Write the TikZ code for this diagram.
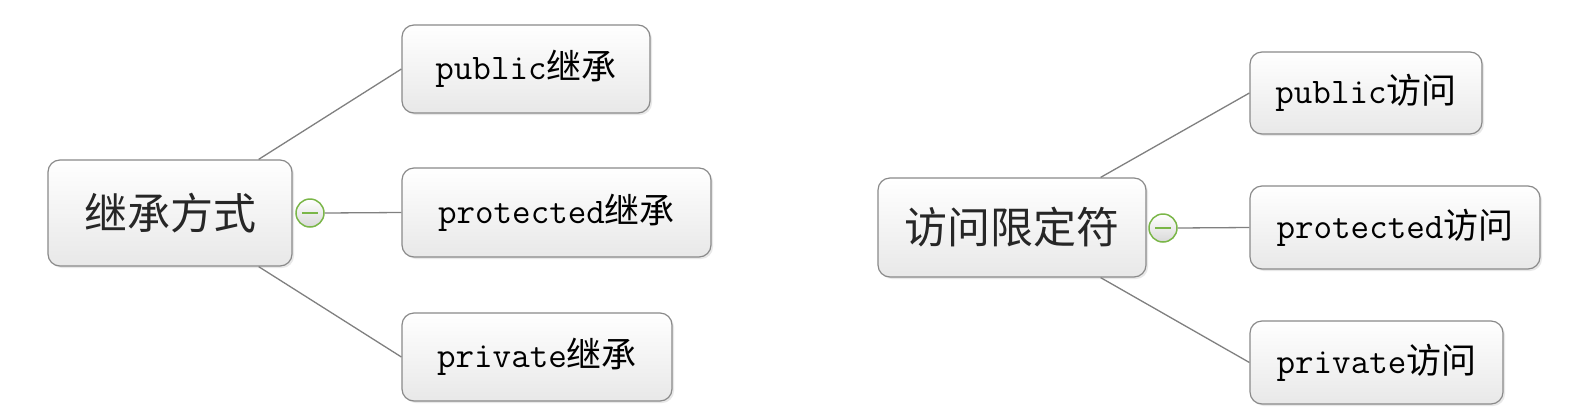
\documentclass[tikz,border=0pt]{standalone}
\usepackage{fontspec}
\newfontfamily\cjk{Noto Sans CJK SC}
\usetikzlibrary{shadows}
\definecolor{boxline}{HTML}{8A8A8A}
\definecolor{linkline}{HTML}{808080}
\definecolor{mgreen}{HTML}{7AB648}
\tikzset{
  topicbox/.style={draw=boxline, line width=1.2pt, rounded corners=12pt,
    top color=white, bottom color=black!9,
    drop shadow={shadow xshift=2pt, shadow yshift=-2pt, opacity=0.18},
    inner sep=0pt, anchor=center},
  rootbox/.style={topicbox, font=\cjk\fontsize{43}{46}\selectfont, text=black!85},
  leafbox/.style={topicbox, text=black},
  link/.style={draw=linkline, line width=1.3pt},
  minusbtn/.style={circle, draw=mgreen, line width=1.5pt, minimum size=28pt,
    inner sep=0pt, top color=white, bottom color=black!15},
}
\newcommand{\lt}[2]{{\ttfamily\fontsize{36}{40}\selectfont #1}{\cjk\fontsize{35}{40}\selectfont #2}}
\begin{document}
\begin{tikzpicture}[x=1pt,y=-1pt]
\useasboundingbox[fill=white] (0,0) rectangle (1569,418);

% left tree
\node[rootbox, minimum width=244pt, minimum height=106pt] (lroot) at (170,213) {继承方式};
\node[leafbox, minimum width=248pt, minimum height=88pt] (lpub) at (526,69) {\lt{public}{继承}};
\node[leafbox, minimum width=309pt, minimum height=89pt] (lprot) at (556.5,212.5) {\lt{protected}{继承}};
\node[leafbox, minimum width=270pt, minimum height=88pt] (lpriv) at (537,357) {\lt{private}{继承}};
\node[minusbtn] (lminus) at (310,213) {};
\draw[mgreen, line width=1.8pt] ([xshift=-8pt]lminus.center) -- ([xshift=8pt]lminus.center);

\draw[link] ([xshift=-34pt]lroot.north east) -- (lpub.west);
\draw[link] ([xshift=-34pt]lroot.south east) -- (lpriv.west);
\draw[link] (lminus.east) -- (lprot.west);

% right tree
\node[rootbox, minimum width=268pt, minimum height=99pt] (rroot) at (1012,227.5) {访问限定符};
\node[leafbox, minimum width=232pt, minimum height=82pt] (rpub) at (1366,93) {\lt{public}{访问}};
\node[leafbox, minimum width=290pt, minimum height=83pt] (rprot) at (1395,227.5) {\lt{protected}{访问}};
\node[leafbox, minimum width=253pt, minimum height=83pt] (rpriv) at (1376.5,362.5) {\lt{private}{访问}};
\node[minusbtn] (rminus) at (1163,228) {};
\draw[mgreen, line width=1.8pt] ([xshift=-8pt]rminus.center) -- ([xshift=8pt]rminus.center);

\draw[link] ([xshift=-46pt]rroot.north east) -- (rpub.west);
\draw[link] ([xshift=-46pt]rroot.south east) -- (rpriv.west);
\draw[link] (rminus.east) -- (rprot.west);
\end{tikzpicture}
\end{document}
